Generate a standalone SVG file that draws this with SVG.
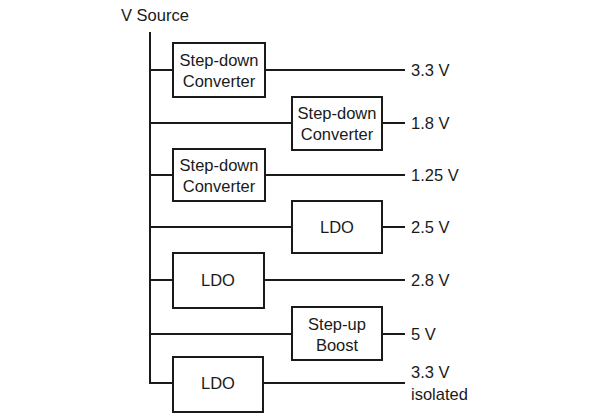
<svg xmlns="http://www.w3.org/2000/svg" width="595" height="418" viewBox="0 0 595 418">
<style>
text{font-family:"Liberation Sans",Arial,sans-serif;font-size:16.5px;fill:#1a1a1a}
.box{fill:#fff;stroke:#1a1a1a;stroke-width:2}
.c{text-anchor:middle}
#connectors path{fill:none;stroke:#1a1a1a;stroke-width:2}
</style>
<rect width="595" height="418" fill="#fff"/>
<g id="connectors">
<path d="M150,32 V383 H173"/>
<path d="M150,70 H173 M265,70 H405"/>
<path d="M150,123 H292 M382,123 H405"/>
<path d="M150,175 H173 M265,175 H405"/>
<path d="M150,227 H292 M382,227 H405"/>
<path d="M150,280 H173 M264,280 H405"/>
<path d="M150,334 H292 M382,334 H405"/>
<path d="M263,383 H405"/>
</g>
<g id="source"><text x="121" y="21">V Source</text></g>
<g id="n1"><rect class="box" x="173" y="43" width="92" height="54"/><text class="c" x="219" y="66">Step-down</text><text class="c" x="219" y="87">Converter</text></g>
<g id="n2"><rect class="box" x="292" y="97" width="90" height="53"/><text class="c" x="337" y="119">Step-down</text><text class="c" x="337" y="140">Converter</text></g>
<g id="n3"><rect class="box" x="173" y="149" width="92" height="52"/><text class="c" x="219" y="171">Step-down</text><text class="c" x="219" y="192">Converter</text></g>
<g id="n4"><rect class="box" x="292" y="201" width="90" height="52"/><text class="c" x="337" y="233">LDO</text></g>
<g id="n5"><rect class="box" x="173" y="253" width="91" height="55"/><text class="c" x="218" y="286">LDO</text></g>
<g id="n6"><rect class="box" x="292" y="307" width="90" height="53"/><text class="c" x="337" y="330">Step-up</text><text class="c" x="337" y="351">Boost</text></g>
<g id="n7"><rect class="box" x="173" y="357" width="90" height="55"/><text class="c" x="218" y="389">LDO</text></g>
<g id="labels">
<text x="411" y="76">3.3 V</text>
<text x="411" y="129">1.8 V</text>
<text x="411" y="181">1.25 V</text>
<text x="411" y="233">2.5 V</text>
<text x="411" y="286">2.8 V</text>
<text x="411" y="340">5 V</text>
<text x="411" y="378">3.3 V</text>
<text x="411" y="400">isolated</text>
</g>
</svg>
